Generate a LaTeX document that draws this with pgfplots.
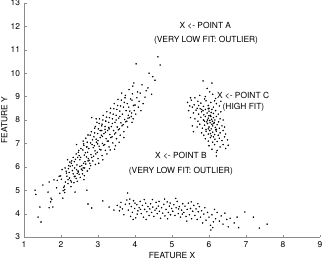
\documentclass[border=0pt]{standalone}
\usepackage{fontspec}
\setmainfont{TeX Gyre Heros}
\usepackage{pgfplots}
\pgfplotsset{compat=1.18}
\begin{document}
\begin{tikzpicture}
\begin{axis}[
  scale only axis, width=296pt, height=234pt,
  xmin=1, xmax=9, ymin=3, ymax=13,
  xtick={1,...,9}, ytick={3,...,13},
  axis lines=left, axis line style={-, color=black!45},
  tick align=inside, major tick length=2.5pt,
  tick style={color=black!45},
  /pgf/number format/assume math mode=true,
  ticklabel style={font=\fontsize{8.4}{10}\selectfont},
  xticklabel style={yshift=-1.5pt},
  yticklabel style={xshift=-0.5pt},
  xlabel={FEATURE X}, ylabel={FEATURE Y},
  label style={font=\fontsize{8.4}{10}\selectfont},
  xlabel style={at={(axis description cs:0.5,-0.079)}, anchor=center},
  ylabel style={at={(axis description cs:-0.0662,0.5)}, anchor=center},
  clip=false,
]
% cluster 1 (diagonal)
\addplot[only marks, mark=*, mark size=0.52pt, black] coordinates {
(1.3,5.0)(1.32,4.82)(1.38,3.85)(1.46,3.64)(1.43,4.28)(1.65,4.92)(1.73,4.66)(1.75,4.6)(1.78,4.28)(1.68,4.25)
(1.51,5.22)(1.68,5.35)(1.81,5.44)(1.97,4.87)(2.05,4.66)(2.1,4.9)(2.38,4.92)(2.7,5.0)(1.9,5.42)(1.72,4.5)(1.88,5.1)(1.95,5.6)
(2.07,5.12)(1.99,5.61)(2.12,5.35)(2.03,5.88)(2.1,5.02)(2.01,5.47)(2.15,5.73)(2.06,4.98)
(2.19,5.28)(2.11,5.95)(2.23,5.52)(2.14,5.81)(2.09,5.18)(2.21,6.05)(2.16,5.6)(2.26,5.41)
(2.28,5.35)(2.2,5.92)(2.33,5.7)(2.24,6.2)(2.19,5.45)(2.31,5.84)(2.25,6.02)(2.36,5.58)(2.27,5.15)(2.22,5.76)
(2.38,5.6)(2.29,6.25)(2.42,5.88)(2.35,5.32)(2.31,6.05)(2.44,5.72)(2.33,6.4)(2.37,5.95)(2.41,5.5)(2.28,6.15)(2.46,5.82)
(2.47,5.78)(2.39,6.32)(2.52,5.55)(2.43,6.08)(2.41,6.55)(2.55,5.9)(2.36,6.22)(2.49,5.68)(2.45,6.4)(2.51,6.02)(2.44,5.38)(2.48,6.7)
(2.58,5.85)(2.49,6.48)(2.61,6.15)(2.54,6.78)(2.63,5.62)(2.51,6.3)(2.56,6.05)(2.47,6.62)(2.6,5.95)(2.53,6.4)(2.62,6.92)(2.65,6.22)
(2.67,6.12)(2.59,6.72)(2.71,5.82)(2.63,6.5)(2.61,6.98)(2.73,6.25)(2.66,6.6)(2.64,5.95)(2.69,6.42)(2.6,7.1)(2.74,6.35)(2.58,5.7)(2.7,6.85)
(2.76,6.28)(2.69,6.85)(2.73,7.36)(2.8,6.05)(2.72,6.62)(2.71,7.05)(2.83,6.4)(2.75,6.78)(2.78,6.15)(2.67,7.22)(2.81,6.52)(2.77,5.92)(2.84,6.95)
(2.88,6.45)(2.8,7.02)(2.83,8.1)(2.92,6.68)(2.79,7.35)(2.86,6.25)(2.9,6.9)(2.82,7.5)(2.94,6.55)(2.85,7.15)(2.87,6.82)(2.91,7.65)(2.93,6.1)
(2.98,6.62)(2.89,7.28)(3.03,6.88)(2.93,7.72)(3.0,6.35)(2.96,7.05)(2.91,7.45)(3.05,6.75)(2.97,7.9)(2.95,7.18)(3.02,6.15)(2.99,6.98)(3.06,7.55)
(3.08,6.72)(2.99,7.42)(3.12,7.0)(3.03,7.85)(3.11,6.48)(3.06,7.25)(3.01,7.62)(3.15,6.92)(3.04,8.05)(3.09,7.35)(3.13,6.3)(3.0,7.12)(3.1,7.75)
(3.18,6.95)(3.1,7.55)(3.22,7.2)(3.13,8.0)(3.2,6.7)(3.16,7.42)(3.11,7.82)(3.25,7.1)(3.14,8.2)(3.19,7.6)(3.24,6.55)(3.12,7.3)(3.21,7.95)
(3.28,7.1)(3.19,7.72)(3.32,7.38)(3.23,8.12)(3.3,6.85)(3.26,7.55)(3.21,7.95)(3.35,7.25)(3.24,8.35)(3.29,7.68)(3.33,6.72)(3.2,7.48)
(3.38,7.28)(3.29,7.9)(3.42,7.55)(3.33,8.3)(3.4,7.02)(3.36,7.72)(3.31,8.1)(3.45,7.4)(3.34,8.5)(3.39,7.85)(3.47,6.9)(3.3,7.62)
(3.48,7.45)(3.39,8.05)(3.52,7.7)(3.43,8.48)(3.5,7.2)(3.46,7.9)(3.41,8.25)(3.55,7.58)(3.44,8.7)(3.49,8.0)(3.57,7.05)
(3.58,7.62)(3.49,8.2)(3.62,7.88)(3.53,8.62)(3.6,7.35)(3.56,8.08)(3.51,8.45)(3.65,7.75)(3.54,8.88)(3.59,8.15)
(3.68,7.8)(3.59,8.38)(3.72,8.02)(3.63,8.85)(3.7,7.5)(3.66,8.25)(3.61,8.6)(3.64,9.15)(3.75,7.92)
(3.78,7.95)(3.69,8.55)(3.82,8.2)(3.73,8.95)(3.8,7.7)(3.76,8.4)(3.71,8.75)(3.85,8.1)(3.74,9.05)
(3.84,9.3)(3.9,8.15)(3.79,8.7)(3.86,8.38)(3.92,7.9)(3.81,8.08)(3.88,8.9)(3.83,8.55)(3.93,9.12)
(3.91,8.3)(3.92,8.85)(3.94,9.45)(3.95,8.05)(3.96,8.62)(3.97,9.58)(3.98,8.4)(4.0,8.64)
(4.02,8.25)(4.03,10.4)(4.05,8.95)(4.07,9.2)(4.09,8.55)(4.11,8.8)(4.14,9.15)(4.16,8.4)(4.19,9.5)
(4.22,8.7)(4.27,8.98)(4.3,9.25)(4.35,9.37)(4.38,10.0)(4.48,9.85)(4.54,9.7)(4.62,10.7)(4.68,10.35)(4.45,9.1)
(2.42,6.95)(2.18,6.3)(2.95,8.05)(3.45,6.75)(3.7,7.25)(2.62,5.45)
};
% cluster 2 (round)
\addplot[only marks, mark=*, mark size=0.52pt, black] coordinates {
(5.84,9.67)(6.08,9.58)(5.95,9.35)(6.02,9.2)(5.75,9.05)(5.62,8.95)(5.9,9.0)(6.1,9.1)(6.18,8.92)(5.52,8.85)(5.7,8.8)
(5.6,8.65)(5.68,8.5)(5.78,8.72)(5.85,8.58)(5.92,8.82)(5.98,8.62)(6.05,8.75)(6.12,8.55)(6.2,8.7)(6.28,8.6)(5.55,8.55)(5.72,8.62)(5.88,8.9)(6.0,8.5)(6.15,8.82)(5.8,8.45)
(5.58,8.3)(5.65,8.42)(5.72,8.25)(5.8,8.35)(5.86,8.22)(5.9,8.45)(5.95,8.3)(6.0,8.38)(6.04,8.2)(6.08,8.45)(6.12,8.28)(6.18,8.4)(6.25,8.25)(6.32,8.35)(5.76,8.48)(5.98,8.48)(6.06,8.32)(5.84,8.4)
(5.62,8.05)(5.7,7.95)(5.78,8.12)(5.85,8.0)(5.9,8.15)(5.94,7.92)(5.98,8.08)(6.02,7.98)(6.05,8.15)(6.09,7.95)(6.12,8.1)(6.16,8.0)(6.2,8.15)(6.26,7.92)(6.3,8.05)(6.38,8.0)(5.88,7.95)(6.0,8.18)(6.07,8.03)(5.96,8.0)(6.14,7.9)
(5.68,7.7)(5.75,7.82)(5.82,7.65)(5.88,7.78)(5.92,7.6)(5.96,7.85)(6.0,7.7)(6.03,7.88)(6.06,7.62)(6.1,7.75)(6.13,7.85)(6.17,7.68)(6.22,7.8)(6.28,7.65)(6.35,7.75)(6.42,7.7)(5.98,7.62)(6.08,7.82)(6.2,7.6)
(5.8,7.45)(5.86,7.35)(5.92,7.52)(5.98,7.4)(6.02,7.55)(6.06,7.32)(6.1,7.48)(6.15,7.38)(6.2,7.52)(6.25,7.35)(6.3,7.45)(6.38,7.55)(6.45,7.4)(6.04,7.42)(6.18,7.58)
(5.9,7.2)(5.98,7.1)(6.04,7.25)(6.1,7.05)(6.16,7.18)(6.22,7.08)(6.28,7.22)(6.35,7.12)(6.42,7.28)(6.5,7.15)(6.12,7.28)
(6.0,6.9)(6.08,6.75)(6.15,6.95)(6.22,6.7)(6.3,6.85)(6.38,6.95)(6.45,6.78)(6.52,6.92)(6.2,6.62)(6.2,6.46)
(5.45,8.4)(5.5,8.1)(5.55,7.75)(5.48,8.6)(5.42,8.75)(5.58,7.5)(5.5,8.95)(6.32,8.8)
};
% cluster 3 (horizontal band)
\addplot[only marks, mark=*, mark size=0.52pt, black] coordinates {
(2.73,4.41)(2.83,4.24)(3.13,4.54)(3.3,4.28)(3.43,4.15)(3.8,4.88)
(3.52,4.35)(3.58,4.12)(3.62,4.48)(3.66,4.2)(3.7,3.95)(3.74,4.4)(3.78,4.58)(3.6,4.28)
(3.82,4.15)(3.85,4.42)(3.88,3.88)(3.9,4.3)(3.93,4.05)(3.96,4.55)(3.99,4.22)(4.02,3.82)(4.05,4.38)(4.08,4.12)(3.86,4.62)(3.95,3.75)(4.0,4.45)(4.06,3.98)
(4.11,4.25)(4.14,4.52)(4.17,4.0)(4.2,4.35)(4.23,3.85)(4.26,4.18)(4.29,4.45)(4.32,4.08)(4.35,4.3)(4.38,3.92)(4.15,4.18)(4.25,4.6)(4.3,3.75)(4.4,4.2)
(4.42,4.42)(4.45,4.05)(4.48,4.28)(4.51,3.88)(4.54,4.15)(4.57,4.48)(4.6,4.0)(4.63,4.32)(4.66,4.1)(4.69,3.8)(4.47,4.6)(4.58,4.22)(4.65,4.52)
(4.72,4.25)(4.75,4.02)(4.78,4.4)(4.81,3.9)(4.84,4.18)(4.87,4.5)(4.9,4.05)(4.93,4.32)(4.96,3.95)(4.99,4.22)(4.8,4.62)(4.88,3.78)(4.95,4.45)
(5.02,4.1)(5.05,4.38)(5.08,3.92)(5.11,4.25)(5.14,4.52)(5.17,4.0)(5.2,4.3)(5.23,3.85)(5.26,4.15)(5.29,4.42)(5.1,4.65)(5.18,4.2)(5.28,3.98)
(5.32,4.05)(5.35,4.32)(5.38,3.88)(5.41,4.18)(5.44,4.45)(5.47,3.95)(5.5,4.22)(5.53,3.78)(5.56,4.1)(5.59,4.35)(5.4,3.68)(5.52,4.5)
(5.62,3.92)(5.65,4.2)(5.68,3.75)(5.71,4.08)(5.74,4.3)(5.77,3.85)(5.8,4.12)(5.83,3.6)(5.86,3.98)(5.89,4.25)(5.7,4.42)
(5.92,3.72)(5.96,4.05)(6.0,3.85)(6.04,3.5)(6.05,3.3)(6.08,3.95)(6.12,3.65)(6.15,4.18)(6.18,3.78)(6.1,3.4)
(6.22,4.05)(6.28,3.68)(6.33,3.9)(6.38,3.55)(6.43,4.02)(6.48,3.75)(6.52,3.43)(6.57,3.8)
(6.68,3.6)(6.76,3.85)(6.8,3.4)(6.97,4.07)(7.2,3.85)(7.36,3.38)(7.57,3.55)
};
\node[font=\fontsize{8.4}{10}\selectfont, inner sep=0pt] at (axis cs:5.9,12.02) {X <- POINT A};
\node[font=\fontsize{8.4}{10}\selectfont, inner sep=0pt] at (axis cs:5.92,11.4) {(VERY LOW FIT: OUTLIER)};
\node[font=\fontsize{8.4}{10}\selectfont, inner sep=0pt] at (axis cs:5.24,6.46) {X <- POINT B};
\node[font=\fontsize{8.4}{10}\selectfont, inner sep=0pt] at (axis cs:5.24,5.8) {(VERY LOW FIT: OUTLIER)};
\node[font=\fontsize{8.4}{10}\selectfont, inner sep=0pt] at (axis cs:6.92,9.03) {X <- POINT C};
\node[font=\fontsize{8.4}{10}\selectfont, inner sep=0pt] at (axis cs:6.93,8.53) {(HIGH FIT)};
\end{axis}
\pgfresetboundingbox
\useasboundingbox ([shift={(-24pt,-22pt)}]current axis.south west) rectangle ([shift={(2pt,3pt)}]current axis.north east);
\end{tikzpicture}
\end{document}
